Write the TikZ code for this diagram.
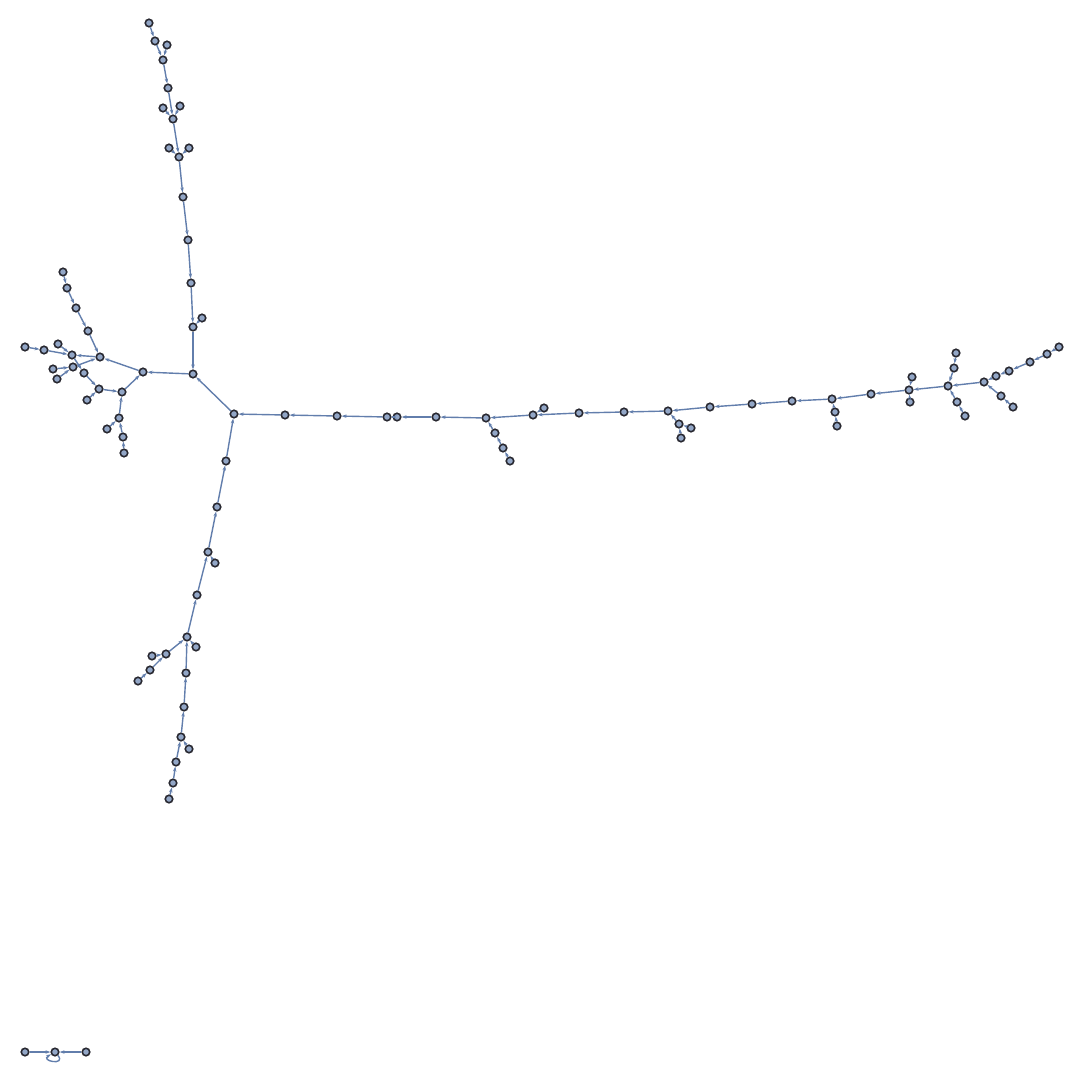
\documentclass[tikz,border=0pt]{standalone}
\usetikzlibrary{arrows.meta}

\definecolor{edgecol}{RGB}{98,126,172}
\definecolor{vtxfill}{RGB}{146,166,198}
\definecolor{vtxline}{RGB}{40,40,48}

\tikzset{
 vtx/.style={circle, draw=vtxline, fill=vtxfill, line width=1.6pt, minimum size=7.5pt, inner sep=0pt},
 edge/.style={draw=edgecol, line width=1.4pt, -{Stealth[length=5pt,width=3.4pt]}},
}

\begin{document}
\begin{tikzpicture}[x=1pt, y=-1pt]
 \useasboundingbox (0,0) rectangle (1087,1089);
 % top branch
 \node [vtx] (t1) at (149,23) {};
 \node [vtx] (t2) at (155,41) {};
 \node [vtx] (t3) at (167,45) {};
 \node [vtx] (t4) at (163,60) {};
 \node [vtx] (t5) at (168,88) {};
 \node [vtx] (t6) at (163,108) {};
 \node [vtx] (t7) at (180,106) {};
 \node [vtx] (t8) at (173,119) {};
 \node [vtx] (t9) at (169,148) {};
 \node [vtx] (t10) at (189,148) {};
 \node [vtx] (t11) at (179,157) {};
 \node [vtx] (t12) at (183,197) {};
 \node [vtx] (t13) at (188,240) {};
 \node [vtx] (t14) at (191,283) {};
 \node [vtx] (t15) at (193,327) {};
 \node [vtx] (t16) at (202,318) {};
 % hubs
 \node [vtx] (hA) at (193,374) {};
 \node [vtx] (hB) at (234,414) {};
 % left cluster
 \node [vtx] (l1) at (143,372) {};
 \node [vtx] (l2) at (100,357) {};
 \node [vtx] (la) at (72,355) {};
 \node [vtx] (lb) at (73,367) {};
 \node [vtx] (lc) at (84,373) {};
 \node [vtx] (ld) at (99,389) {};
 \node [vtx] (le) at (122,392) {};
 \node [vtx] (k1) at (63,272) {};
 \node [vtx] (k2) at (67,288) {};
 \node [vtx] (k3) at (76,308) {};
 \node [vtx] (k4) at (88,331) {};
 \node [vtx] (m1) at (25,347) {};
 \node [vtx] (m2) at (44,350) {};
 \node [vtx] (m3) at (58,344) {};
 \node [vtx] (n1) at (53,369) {};
 \node [vtx] (n2) at (57,379) {};
 \node [vtx] (n3) at (87,400) {};
 \node [vtx] (p1) at (119,418) {};
 \node [vtx] (p2) at (107,429) {};
 \node [vtx] (p3) at (123,437) {};
 \node [vtx] (p4) at (124,453) {};
 % right branch
 \node [vtx] (r1) at (285,415) {};
 \node [vtx] (r2) at (337,416) {};
 \node [vtx] (r3) at (387,417) {};
 \node [vtx] (r4) at (397,417) {};
 \node [vtx] (r5) at (436,417) {};
 \node [vtx] (r6) at (486,418) {};
 \node [vtx] (s1) at (495,433) {};
 \node [vtx] (s2) at (503,448) {};
 \node [vtx] (s3) at (510,461) {};
 \node [vtx] (r7) at (533,415) {};
 \node [vtx] (s4) at (544,408) {};
 \node [vtx] (r8) at (579,413) {};
 \node [vtx] (r9) at (624,412) {};
 \node [vtx] (r10) at (668,411) {};
 \node [vtx] (s5) at (679,424) {};
 \node [vtx] (s6) at (691,428) {};
 \node [vtx] (s7) at (681,438) {};
 \node [vtx] (r11) at (710,407) {};
 \node [vtx] (r12) at (752,404) {};
 \node [vtx] (r13) at (792,401) {};
 \node [vtx] (r14) at (832,399) {};
 \node [vtx] (s8) at (835,412) {};
 \node [vtx] (s9) at (837,426) {};
 \node [vtx] (r15) at (871,394) {};
 \node [vtx] (r16) at (909,390) {};
 \node [vtx] (s10) at (912,377) {};
 \node [vtx] (s11) at (910,402) {};
 \node [vtx] (r17) at (948,386) {};
 \node [vtx] (s12) at (954,368) {};
 \node [vtx] (s13) at (956,353) {};
 \node [vtx] (s14) at (957,402) {};
 \node [vtx] (s15) at (965,416) {};
 \node [vtx] (r18) at (984,382) {};
 \node [vtx] (r19) at (996,376) {};
 \node [vtx] (r20) at (1009,371) {};
 \node [vtx] (r21) at (1030,362) {};
 \node [vtx] (r22) at (1047,354) {};
 \node [vtx] (r23) at (1059,347) {};
 \node [vtx] (s16) at (1001,396) {};
 \node [vtx] (s17) at (1013,407) {};
 % bottom branch
 \node [vtx] (b1) at (226,461) {};
 \node [vtx] (b2) at (217,507) {};
 \node [vtx] (b3) at (208,552) {};
 \node [vtx] (c1) at (215,563) {};
 \node [vtx] (b4) at (197,595) {};
 \node [vtx] (b5) at (187,637) {};
 \node [vtx] (c2) at (196,647) {};
 \node [vtx] (c3) at (166,654) {};
 \node [vtx] (c4) at (152,656) {};
 \node [vtx] (c5) at (150,670) {};
 \node [vtx] (c6) at (138,681) {};
 \node [vtx] (b6) at (186,673) {};
 \node [vtx] (b7) at (184,707) {};
 \node [vtx] (b8) at (181,737) {};
 \node [vtx] (c7) at (189,749) {};
 \node [vtx] (b9) at (176,762) {};
 \node [vtx] (b10) at (173,783) {};
 \node [vtx] (b11) at (169,799) {};
 % small component
 \node [vtx] (z1) at (25,1052) {};
 \node [vtx] (z2) at (55,1052) {};
 \node [vtx] (z3) at (86,1052) {};

 \foreach \a/\b in {t1/t2, t2/t4, t3/t4, t4/t5, t5/t8, t6/t8, t7/t8, t8/t11,
  t9/t11, t10/t11, t11/t12, t12/t13, t13/t14, t14/t15, t16/t15, t15/hA,
  hB/hA, hA/l1, l1/l2, l2/la, la/lc, lc/ld, ld/le, le/l1,
  k1/k2, k2/k3, k3/k4, k4/l2, m1/m2, m2/la, m3/la, lb/l2, n1/lb, n2/lb,
  n3/ld, p1/le, p2/p1, p3/p1, p4/p3,
  r1/hB, r2/r1, r3/r2, r4/r3, r5/r4, r6/r5, s1/r6, s2/s1, s3/s2, r7/r6,
  s4/r7, r8/r7, r9/r8, r10/r9, s5/r10, s6/s5, s7/s5, r11/r10, r12/r11,
  r13/r12, r14/r13, s8/r14, s9/s8, r15/r14, r16/r15, s10/r16, s11/r16,
  r17/r16, s12/r17, s13/s12, s14/r17, s15/s14, r18/r17, r19/r18, r20/r19,
  r21/r20, r22/r21, r23/r22, s16/r18, s17/s16,
  b1/hB, b2/b1, b3/b2, c1/b3, b4/b3, b5/b4, c2/b5, c3/b5, c4/c3, c5/c3,
  c6/c5, b6/b5, b7/b6, b8/b7, c7/b8, b9/b8, b10/b9, b11/b10,
  z1/z2, z3/z2}
  \draw [edge] (\a) -- (\b);
 \draw [edge] (z2) to [out=-50, in=-150, min distance=10pt, looseness=5] (z2);
\end{tikzpicture}
\end{document}
